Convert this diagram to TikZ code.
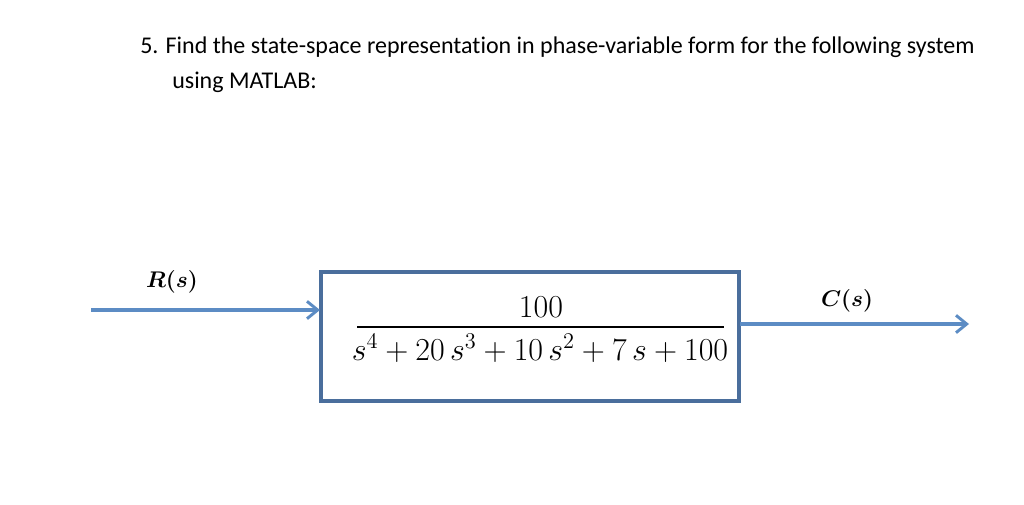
\RequirePackage{fix-cm}
\documentclass[tikz,border=0pt]{standalone}
\usepackage{fontspec}
\usepackage{amsmath}
\usepackage{bm}
\setmainfont{Carlito}[Ligatures=NoCommon]
\usetikzlibrary{arrows.meta}
\definecolor{boxblue}{RGB}{74,110,156}
\definecolor{arrblue}{RGB}{92,140,196}
\tikzset{
  blockbox/.style={draw=boxblue, line width=2.4pt, minimum width=313.5pt, minimum height=96.75pt, inner sep=0pt},
  sigline/.style={draw=arrblue, line width=2.4pt, -{Straight Barb[length=8pt,width=13pt,line width=2.2pt]}},
  title/.style={font=\fontsize{18}{21}\selectfont, anchor=west, inner sep=0pt},
  lbl/.style={font=\fontsize{17}{20}\selectfont, inner sep=0pt},
  frac/.style={font=\fontsize{24}{28}\selectfont, inner sep=0pt}
}
\begin{document}
\begin{tikzpicture}[x=0.75pt,y=-0.75pt]
\useasboundingbox (0,0) rectangle (1024,504);
\node[title] (t1) at (140,47) {5. Find the state-space representation in phase-variable form for the following system};
\node[title] (t2) at (172,82) {using MATLAB:};
\node[blockbox] (blk) at (530,336.5) {};
\coordinate (inS) at (91,310);
\coordinate (inE) at (320,310);
\coordinate (outS) at (740,324);
\coordinate (outE) at (969,324);
\draw[sigline] (inS) -- (inE);
\draw[sigline] (outS) -- (outE);
\node[lbl] (R) at (172,282) {$\bm{R(s)}$};
\node[lbl] (C) at (847,301) {$\bm{C(s)}$};
\node[frac] (num) at (541,307) {$100$};
\node[frac] (den) at (540,348) {$s^4+20\,s^3+10\,s^2+7\,s+100$};
\draw[line width=1.4pt] (357,327) -- (724,327);
\end{tikzpicture}
\end{document}
